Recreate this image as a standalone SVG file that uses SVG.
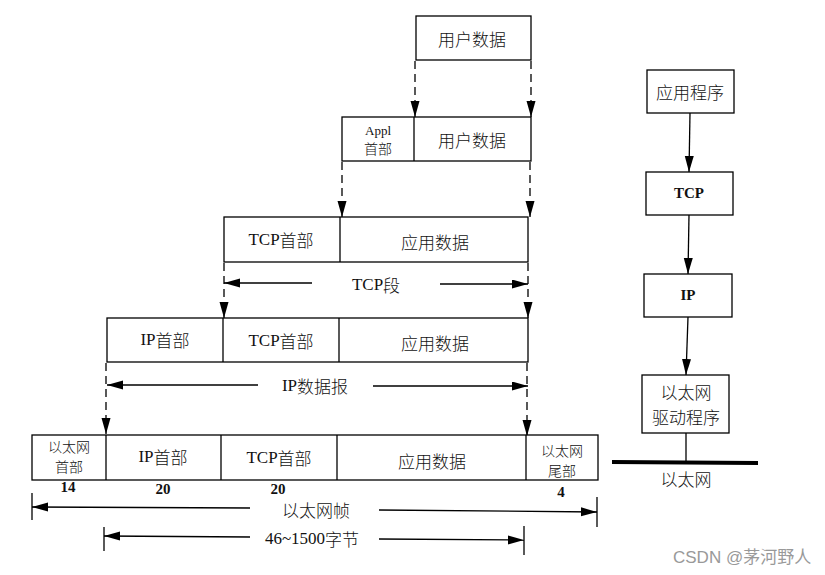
<svg xmlns="http://www.w3.org/2000/svg" width="825" height="575" viewBox="0 0 825 575">
<defs>
<style>
.box{fill:#fff;stroke:#000;stroke-width:1.3}
.ln{stroke:#000;stroke-width:1.3;fill:none}
.dash{stroke:#000;stroke-width:1.3;fill:none;stroke-dasharray:8 5}
.t{font-family:"Noto Sans CJK SC","Liberation Serif",serif;font-weight:300;font-size:17px;fill:#111;text-anchor:middle;dominant-baseline:central}
.l{font-family:"Liberation Serif",serif;font-weight:normal}
.s{font-size:14px}
.a{font-size:13px}
.b{font-family:"Liberation Serif",serif;font-weight:bold;font-size:15px}
.bar{stroke:#000;stroke-width:4}
.wm{font-family:"Liberation Sans","Noto Sans CJK SC",sans-serif;font-size:17px;fill:#999;dominant-baseline:central}
</style>
<marker id="ah" markerUnits="userSpaceOnUse" markerWidth="17" markerHeight="10" refX="16" refY="4.5" orient="auto">
<path d="M0,0 L16,4.5 L0,9 z" fill="#000"/>
</marker>
</defs>
<rect width="825" height="575" fill="#fff"/>

<g id="connectors">
<line class="dash" x1="415" y1="61" x2="415" y2="117" marker-end="url(#ah)"/>
<line class="dash" x1="531" y1="61" x2="531" y2="117" marker-end="url(#ah)"/>
<line class="dash" x1="342" y1="162" x2="342" y2="217" marker-end="url(#ah)"/>
<line class="dash" x1="530" y1="162" x2="530" y2="217" marker-end="url(#ah)"/>
<line class="dash" x1="224" y1="263" x2="224" y2="318" marker-end="url(#ah)"/>
<line class="dash" x1="528" y1="263" x2="528" y2="318" marker-end="url(#ah)"/>
<line class="dash" x1="106" y1="363" x2="106" y2="434" marker-end="url(#ah)"/>
<line class="dash" x1="527" y1="363" x2="527" y2="436" marker-end="url(#ah)"/>
<line class="ln" x1="312" y1="283" x2="224" y2="283" marker-end="url(#ah)"/>
<line class="ln" x1="440" y1="284" x2="528" y2="284" marker-end="url(#ah)"/>
<line class="ln" x1="258" y1="385" x2="107" y2="385" marker-end="url(#ah)"/>
<line class="ln" x1="373" y1="386" x2="528" y2="386" marker-end="url(#ah)"/>
<line class="ln" x1="32" y1="493" x2="32" y2="520"/>
<line class="ln" x1="250" y1="508" x2="32" y2="507" marker-end="url(#ah)"/>
<line class="ln" x1="379" y1="510" x2="597" y2="512" marker-end="url(#ah)"/>
<line class="ln" x1="597" y1="497" x2="597" y2="527"/>
<line class="ln" x1="104" y1="527" x2="104" y2="551"/>
<line class="ln" x1="250" y1="537" x2="104" y2="536" marker-end="url(#ah)"/>
<line class="ln" x1="379" y1="539" x2="524" y2="540" marker-end="url(#ah)"/>
<line class="ln" x1="524" y1="526" x2="524" y2="555"/>
<line class="ln" x1="690" y1="113" x2="689" y2="172" marker-end="url(#ah)"/>
<line class="ln" x1="689" y1="215" x2="688" y2="274" marker-end="url(#ah)"/>
<line class="ln" x1="688" y1="317" x2="686" y2="375" marker-end="url(#ah)"/>
<line class="ln" x1="686" y1="433" x2="686" y2="462"/>
</g>

<g id="user-data">
<rect class="box" x="416" y="16" width="115" height="44"/>
<text class="t" x="472" y="38">用户数据</text>
</g>

<g id="appl-row">
<rect class="box" x="342" y="117" width="189" height="44"/>
<line class="ln" x1="414" y1="117" x2="414" y2="161"/>
<text class="t a l" x="378" y="130">Appl</text>
<text class="t s" x="378" y="148">首部</text>
<text class="t" x="472" y="139">用户数据</text>
</g>

<g id="tcp-row">
<rect class="box" x="224" y="217" width="304" height="45"/>
<line class="ln" x1="340" y1="217" x2="340" y2="262"/>
<text class="t" x="281" y="239"><tspan class="l">TCP</tspan>首部</text>
<text class="t" x="435" y="241">应用数据</text>
<text class="t" x="376" y="284"><tspan class="l">TCP</tspan>段</text>
</g>

<g id="ip-row">
<rect class="box" x="107" y="318" width="421" height="44"/>
<line class="ln" x1="223" y1="318" x2="223" y2="362"/>
<line class="ln" x1="339" y1="318" x2="339" y2="362"/>
<text class="t" x="165" y="339"><tspan class="l">IP</tspan>首部</text>
<text class="t" x="281" y="340"><tspan class="l">TCP</tspan>首部</text>
<text class="t" x="435" y="342">应用数据</text>
<text class="t" x="315" y="385"><tspan class="l">IP</tspan>数据报</text>
</g>

<g id="eth-row">
<rect class="box" x="32" y="435" width="566" height="45"/>
<line class="ln" x1="106" y1="435" x2="106" y2="480"/>
<line class="ln" x1="221" y1="435" x2="221" y2="480"/>
<line class="ln" x1="337" y1="435" x2="337" y2="480"/>
<line class="ln" x1="526" y1="435" x2="526" y2="480"/>
<text class="t s" x="69" y="446">以太网</text>
<text class="t s" x="69" y="466">首部</text>
<text class="t" x="163" y="456"><tspan class="l">IP</tspan>首部</text>
<text class="t" x="279" y="457"><tspan class="l">TCP</tspan>首部</text>
<text class="t" x="432" y="460">应用数据</text>
<text class="t s" x="562" y="450">以太网</text>
<text class="t s" x="562" y="470">尾部</text>
<text class="t b" x="68" y="487">14</text>
<text class="t b" x="163" y="489">20</text>
<text class="t b" x="278" y="489">20</text>
<text class="t b" x="561" y="492">4</text>
<text class="t" x="316" y="509">以太网帧</text>
<text class="t" x="312" y="538"><tspan class="l">46~1500</tspan>字节</text>
</g>

<g id="app">
<rect class="box" x="647" y="70" width="87" height="43"/>
<text class="t" x="690" y="91">应用程序</text>
</g>
<g id="tcp">
<rect class="box" x="646" y="172" width="87" height="43"/>
<text class="t b" x="689" y="193">TCP</text>
</g>
<g id="ip">
<rect class="box" x="644" y="274" width="88" height="43"/>
<text class="t b" x="688" y="295">IP</text>
</g>
<g id="driver">
<rect class="box" x="642" y="375" width="87" height="58"/>
<text class="t" x="686" y="391">以太网</text>
<text class="t" x="686" y="416">驱动程序</text>
</g>
<g id="ethernet">
<line class="bar" x1="612" y1="462" x2="758" y2="463"/>
<text class="t" x="686" y="478">以太网</text>
</g>
<text class="wm" x="673" y="557">CSDN @茅河野人</text>
</svg>
